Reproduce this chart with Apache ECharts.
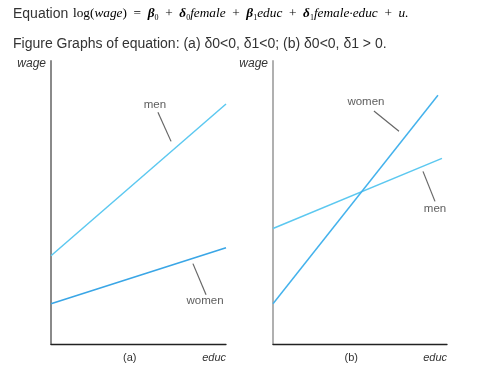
<!DOCTYPE html>
<html>
<head>
<meta charset="utf-8">
<script src="https://cdn.jsdelivr.net/npm/echarts@6/dist/echarts.min.js"></script>
<style>
  html, body { margin: 0; padding: 0; background: #fff; }
  #main { width: 491px; height: 378px; }
</style>
</head>
<body>
<div id="main"></div>
<script>
// panel (a): delta0 < 0, delta1 < 0
var educA = [0, 10]
var menA = [3.12, 8.48]
var womenA = [1.42, 3.40]

// panel (b): delta0 < 0, delta1 > 0
var educMenB = [0, 9.71]
var menB = [4.08, 6.56]
var educWomenB = [0, 9.48]
var womenB = [1.42, 8.79]

// panel letters under the x axis
var panelNames = ['(a)', '(b)']
var panelLabelAt = 4.5

// line labels and their leader lines (data coordinates)
var notesA = [
  { text: 'men', at: [5.94, 8.44], leader: [[6.11, 8.19], [6.86, 7.16]] },
  { text: 'women', at: [8.8, 1.52], leader: [[8.11, 2.84], [8.86, 1.74]] }
]
var notesB = [
  { text: 'women', at: [5.34, 8.55], leader: [[5.80, 8.23], [7.24, 7.52]] },
  { text: 'men', at: [9.31, 4.79], leader: [[8.62, 6.10], [9.31, 5.04]] }
]

function pairs(xs, ys) {
  return xs.map(function (x, i) { return [x, ys[i]] })
}

var myChart = echarts.init(document.getElementById('main'))

var sans = '"Liberation Sans", Arial, sans-serif'
var serif = '"Liberation Serif", "DejaVu Serif", serif'

function xAxisFor(idx) {
  return {
    gridIndex: idx, type: 'value', min: 0, max: 10,
    name: 'educ', nameLocation: 'end', nameGap: 0,
    nameTextStyle: { fontFamily: sans, fontStyle: 'italic', fontSize: 11, color: '#333', align: 'right', verticalAlign: 'top', padding: [8, 0, 0, 0] },
    axisLine: { lineStyle: { color: '#222', width: 1.3 } },
    axisTick: { show: false },
    splitLine: { show: false },
    axisLabel: {
      customValues: [panelLabelAt], margin: 8,
      fontFamily: sans, fontSize: 11, color: '#333',
      formatter: function () { return panelNames[idx] }
    }
  }
}

function yAxisFor(idx, col) {
  return {
    gridIndex: idx, type: 'value', min: 0, max: 10,
    name: 'wage', nameLocation: 'end', nameGap: -3,
    nameTextStyle: { fontFamily: sans, fontStyle: 'italic', fontSize: 12, color: '#333', align: 'right', verticalAlign: 'middle', padding: [0, 5, 0, 0] },
    axisLine: { lineStyle: { color: col, width: 2 } },
    axisTick: { show: false },
    axisLabel: { show: false },
    splitLine: { show: false }
  }
}

function noteSeries(notes, idx) {
  var out = []
  notes.forEach(function (n) {
    out.push({
      type: 'line', xAxisIndex: idx, yAxisIndex: idx, data: n.leader,
      symbol: 'none', silent: true,
      lineStyle: { color: '#666', width: 1.2 }
    })
    out.push({
      type: 'scatter', xAxisIndex: idx, yAxisIndex: idx, data: [n.at],
      symbolSize: 0, silent: true,
      label: { show: true, position: 'inside', formatter: n.text, fontFamily: sans, fontSize: 11.5, color: '#333' }
    })
  })
  return out
}

function mainLine(data, idx, col) {
  return {
    type: 'line', xAxisIndex: idx, yAxisIndex: idx, data: data,
    symbol: 'none', silent: true,
    lineStyle: { color: col, width: 1.5 }
  }
}

var option = {
  animation: false,
  graphic: [
    {
      type: 'text', left: 13, top: 7,
      style: { text: 'Equation', fontFamily: sans, fontSize: 14, fill: '#333' }
    },
    {
      type: 'text', left: 73, top: 5,
      style: {
        text: '{r|log(}{i|wage}{r|)  =  }{b|β}{sub|0}{r|  +  }{b|δ}{sub|0}{i|female}{r|  +  }{b|β}{sub|1}{i|educ}{r|  +  }{b|δ}{sub|1}{i|female·educ}{r|  +  }{i|u.}',
        rich: {
          r: { fontFamily: serif, fontSize: 13.3, color: '#222', lineHeight: 20 },
          i: { fontFamily: serif, fontSize: 13.3, fontStyle: 'italic', color: '#222', lineHeight: 20 },
          b: { fontFamily: serif, fontSize: 13.3, fontStyle: 'italic', fontWeight: 'bold', color: '#222', lineHeight: 20 },
          sub: { fontFamily: serif, fontSize: 8, color: '#222', lineHeight: 20, padding: [9, 0, 0, 0] }
        }
      }
    },
    {
      type: 'text', left: 13, top: 37,
      style: {
        text: 'Figure Graphs of equation: (a) δ0<0, δ1<0; (b) δ0<0, δ1 > 0.',
        fontFamily: sans, fontSize: 14, fill: '#333'
      }
    }
  ],
  grid: [
    { left: 51, top: 61, width: 175, height: 283 },
    { left: 273, top: 61, width: 174, height: 283 }
  ],
  xAxis: [xAxisFor(0), xAxisFor(1)],
  yAxis: [yAxisFor(0, '#8a8a8a'), yAxisFor(1, '#b0b0b0')],
  series: [
    mainLine(pairs(educA, menA), 0, '#5cc8f0'),
    mainLine(pairs(educA, womenA), 0, '#3aa6e6'),
    mainLine(pairs(educMenB, menB), 1, '#5cc8f0'),
    mainLine(pairs(educWomenB, womenB), 1, '#44b2ec')
  ].concat(noteSeries(notesA, 0), noteSeries(notesB, 1))
}

myChart.setOption(option)
</script>
</body>
</html>
